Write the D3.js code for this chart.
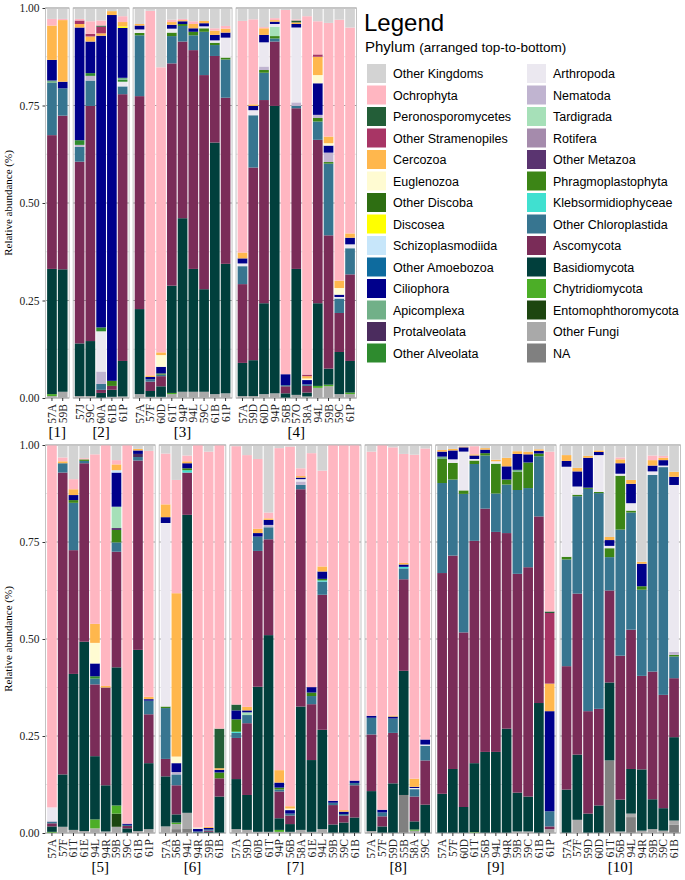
<!DOCTYPE html>
<html>
<head>
<meta charset="utf-8">
<script src="https://cdn.jsdelivr.net/npm/d3@7"></script>
<style>
  body { margin: 0; background: #fff; }
  svg { display: block; }
</style>
</head>
<body>
<div id="chart"></div>
<script>
// facets and samples (left to right)
const facetLabels = ["[1]", "[2]", "[3]", "[4]", "[5]", "[6]", "[7]", "[8]", "[9]", "[10]"];
const facetSamples = [
  ["57A", "59B"],
  ["57J", "59C", "60A", "61B", "61P"],
  ["57A", "57F", "60D", "61T", "94P", "94L", "59C", "61B", "61P"],
  ["57A", "59D", "60D", "94P", "56B", "57O", "58A", "94L", "59B", "59C", "61P"],
  ["57A", "57F", "61T", "61E", "94L", "94R", "59B", "59C", "61B", "61P"],
  ["57A", "56B", "94L", "94R", "59B", "61B"],
  ["57A", "59D", "60B", "61T", "94P", "56B", "58A", "61E", "94L", "59B", "59C", "61B"],
  ["57A", "57F", "59D", "55B", "58A", "59C"],
  ["57A", "57F", "60D", "61T", "56B", "94L", "94R", "59B", "59C", "61B", "61P"],
  ["57A", "57F", "59D", "60D", "61T", "56B", "94L", "94R", "59B", "59C", "61B"]
];
const facetRow = [0, 0, 0, 0, 1, 1, 1, 1, 1, 1];

// legend order (top of the stack first)
const phyla = [
  "Other Kingdoms", "Ochrophyta", "Peronosporomycetes", "Other Stramenopiles", "Cercozoa",
  "Euglenozoa", "Other Discoba", "Discosea", "Schizoplasmodiida", "Other Amoebozoa",
  "Ciliophora", "Apicomplexa", "Protalveolata", "Other Alveolata",
  "Arthropoda", "Nematoda", "Tardigrada", "Rotifera", "Other Metazoa", "Phragmoplastophyta",
  "Klebsormidiophyceae", "Other Chloroplastida", "Ascomycota", "Basidiomycota",
  "Chytridiomycota", "Entomophthoromycota", "Other Fungi", "NA"
];
const phylaColors = [
  "#d3d3d3", "#ffb6c1", "#235e38", "#a83565", "#ffb74d",
  "#fffbd2", "#2e6e12", "#ffff00", "#c7e6fa", "#0e6b9e",
  "#00008b", "#71b088", "#4b2c5e", "#2e8b2e",
  "#ebe8f0", "#c0b4d0", "#a6e0b8", "#a58bac", "#5a3470", "#3c8516",
  "#40e0d0", "#377590", "#7a2c58", "#013f3c",
  "#4cae27", "#1d4610", "#a9a9a9", "#808080"
];
const yTicks = [0, 0.25, 0.5, 0.75, 1];

// relative abundance per phylum, one value per sample, facets [1]..[10]
const otherKingdoms = [
  .028, .028,
  .028, .034, .032, .008, .021,
  .041, .007, .152, .03, .028, .034, .033, .052, .046,
  .033, .029, .049, .026, .005, .029, .021, .034, .038, .03, .05,
  0, .032, .088, .034, .024, 0, .039, 0, .01, .015,
  .022, .09, .027, 0, .017, 0,
  .003, .026, .036, .174, .008, .004, .06, .021, .066, 0, 0, 0,
  .017, 0, .006, .023, .025, .009,
  .013, .01, .004, .003, .008, .038, .033, .016, .017, .011, .017,
  .026, .059, .028, .014, .237, .032, .09, .301, .027, .028, .069
];
const ochrophyta = [
  .017, .003,
  .004, .032, .013, 0, .015,
  0, .935, .731, .006, .003, .007, 0, .006, .007,
  .594, .218, .003, .005, .934, .003, .919, .085, .29, .669, .528,
  .934, .01, .026, .003, .437, .621, .011, .976, 0, .634,
  .131, .292, .015, .986, .967, .731,
  .666, .649, .18, .015, .83, .927, .02, .603, .247, .917, .941, .865,
  .681, .94, .691, .281, .835, .75,
  0, 0, 0, .021, 0, 0, 0, 0, 0, 0, .412,
  0, 0, 0, 0, 0, .005, 0, 0, .012, .005, 0
];
const peronosporomycetes = [
  0, 0,
  0, 0, .003, 0, 0,
  0, 0, 0, 0, 0, 0, 0, 0, 0,
  0, 0, 0, 0, 0, .005, 0, 0, 0, 0, 0,
  0, 0, 0, 0, 0, 0, 0, 0, 0, 0,
  0, 0, 0, 0, 0, .102,
  .015, 0, 0, 0, 0, 0, 0, 0, 0, 0, 0, 0,
  0, 0, 0, 0, 0, 0,
  0, 0, 0, 0, 0, 0, 0, 0, 0, 0, .004,
  0, 0, 0, 0, 0, 0, 0, 0, 0, 0, 0
];
const otherStramenopiles = [
  0, 0,
  .009, .007, .017, 0, 0,
  0, 0, 0, 0, 0, 0, 0, 0, 0,
  0, 0, 0, 0, 0, 0, .004, .006, 0, 0, 0,
  0, 0, 0, 0, 0, 0, 0, 0, 0, 0,
  0, 0, 0, 0, 0, 0,
  0, 0, 0, 0, 0, 0, 0, 0, 0, 0, 0, 0,
  0, 0, 0, 0, 0, 0,
  0, 0, 0, 0, 0, 0, 0, 0, 0, 0, .182,
  0, 0, 0, 0, 0, 0, 0, 0, 0, 0, 0
];
const cercozoa = [
  .088, .158,
  .009, .013, .006, .01, .011,
  .004, .004, .007, .007, .003, .011, .006, .011, .01,
  .015, .004, .017, .004, 0, .004, .006, .047, .017, .019, .011,
  0, .005, .015, 0, .049, .004, .015, 0, .004, .006,
  .033, .421, .005, 0, .003, .004,
  0, .009, .011, .004, .032, .006, .004, 0, .013, 0, .004, 0,
  0, 0, .003, .004, .021, 0,
  .004, .004, .002, .003, .004, .004, .022, .007, .007, .004, .071,
  .015, .009, .005, .004, .008, .01, .01, .005, .014, .006, .013
];
const euglenozoa = [
  0, 0,
  0, 0, 0, 0, 0,
  0, 0, .03, 0, 0, 0, 0, 0, 0,
  0, 0, 0, 0, 0, 0, .004, .021, .006, .017, 0,
  0, 0, 0, 0, .053, 0, 0, 0, 0, 0,
  0, .017, 0, .003, 0, 0,
  0, 0, 0, 0, 0, .004, 0, 0, 0, 0, 0, 0,
  0, 0, 0, 0, 0, 0,
  0, 0, 0, 0, 0, 0, 0, 0, 0, 0, 0,
  0, 0, 0, 0, 0, 0, 0, 0, 0, 0, 0
];
const otherDiscoba = new Array(83).fill(0);
const discosea = [
  0, 0,
  0, 0, 0, 0, .004,
  0, 0, 0, 0, 0, 0, 0, 0, 0,
  0, 0, 0, 0, 0, 0, 0, 0, 0, 0, 0,
  0, 0, 0, 0, 0, 0, 0, 0, 0, 0,
  0, 0, 0, 0, 0, 0,
  0, 0, 0, 0, 0, 0, 0, 0, 0, 0, 0, 0,
  0, 0, 0, 0, 0, 0,
  0, 0, 0, 0, 0, 0, 0, 0, 0, 0, 0,
  0, 0, 0, 0, 0, 0, 0, 0, 0, 0, 0
];
const schizoplasmodiida = [
  0, 0,
  0, 0, 0, 0, 0,
  0, 0, 0, 0, 0, 0, 0, 0, 0,
  0, 0, 0, 0, 0, 0, 0, 0, 0, 0, 0,
  0, 0, 0, 0, 0, 0, .006, 0, 0, 0,
  0, 0, 0, 0, 0, 0,
  0, 0, 0, 0, 0, 0, 0, 0, 0, 0, 0, 0,
  0, 0, 0, 0, 0, 0,
  0, 0, 0, 0, 0, 0, 0, 0, 0, 0, 0,
  0, 0, 0, 0, 0, 0, 0, 0, 0, 0, 0
];
const otherAmoebozoa = new Array(83).fill(0);
const ciliophora = [
  .053, .017,
  .289, .081, .748, .938, .128,
  .01, .006, .017, .01, .007, .009, .008, .014, .013,
  .013, .011, .019, .006, .028, .009, .011, .081, .018, .006, .017,
  0, 0, .013, 0, .033, 0, .088, .003, .009, .004,
  .015, .023, .013, .007, .004, .007,
  .023, .005, .009, .013, .013, .009, .004, .014, .019, .005, .006, .006,
  .005, .007, .005, .006, .003, .013,
  .013, .023, .011, .009, .009, 0, .034, .041, .021, .007, .258,
  .015, .039, .077, .008, .015, .027, .05, .058, .015, .014, .021
];
const apicomplexa = [
  .006, 0,
  0, 0, 0, 0, .005,
  0, 0, 0, 0, 0, 0, 0, 0, 0,
  0, 0, 0, 0, 0, 0, 0, 0, 0, 0, 0,
  0, 0, 0, 0, 0, 0, 0, 0, 0, 0,
  0, 0, 0, 0, 0, 0,
  0, 0, 0, 0, 0, 0, 0, 0, 0, 0, 0, 0,
  0, 0, 0, 0, 0, 0,
  .006, 0, 0, 0, 0, 0, 0, .005, 0, 0, 0,
  0, 0, 0, 0, 0, 0, 0, 0, 0, 0, 0
];
const protalveolata = [
  0, 0,
  0, 0, 0, 0, 0,
  0, 0, 0, 0, 0, 0, 0, 0, 0,
  0, 0, 0, 0, 0, 0, 0, 0, 0, 0, 0,
  0, 0, 0, 0, 0, 0, 0, 0, .008, 0,
  0, 0, 0, 0, 0, 0,
  0, 0, 0, 0, 0, 0, 0, 0, 0, 0, 0, 0,
  0, 0, 0, 0, 0, 0,
  0, 0, 0, 0, 0, 0, 0, 0, 0, 0, 0,
  0, 0, 0, 0, 0, 0, 0, 0, 0, 0, 0
];
const otherAlveolata = [
  0, 0,
  .012, .007, .01, 0, .005,
  0, 0, 0, 0, 0, 0, 0, 0, 0,
  0, 0, 0, 0, 0, 0, 0, 0, 0, 0, 0,
  0, 0, 0, 0, .006, 0, 0, 0, 0, 0,
  0, 0, 0, 0, 0, 0,
  0, 0, 0, 0, 0, 0, 0, 0, 0, 0, 0, 0,
  0, 0, 0, 0, 0, 0,
  0, 0, 0, 0, 0, 0, 0, 0, 0, 0, 0,
  0, 0, 0, 0, 0, 0, 0, 0, 0, 0, 0
];
const arthropoda = [
  0, 0,
  0, 0, .103, 0, .012,
  .009, 0, 0, .01, 0, 0, .005, .006, .051,
  .007, .013, .062, .007, 0, .192, 0, 0, 0, .004, .01,
  .034, 0, 0, 0, 0, 0, 0, 0, 0, 0,
  .473, 0, 0, 0, 0, 0,
  0, 0, 0, 0, 0, 0, .006, 0, 0, 0, 0, 0,
  0, 0, 0, 0, .003, .003,
  0, .009, .1, .004, 0, .006, 0, 0, 0, 0, 0,
  .232, .021, 0, .095, .006, .005, .019, 0, .009, .004, .43
];
const nematoda = [
  0, 0,
  .005, .012, .032, 0, 0,
  0, 0, 0, 0, 0, 0, 0, 0, 0,
  0, 0, .009, 0, 0, .009, 0, .008, .024, 0, 0,
  .003, 0, 0, 0, 0, 0, 0, 0, 0, 0,
  0, .006, 0, 0, 0, 0,
  0, 0, 0, .006, 0, 0, .009, 0, 0, 0, 0, 0,
  0, 0, 0, 0, 0, 0,
  0, 0, 0, 0, 0, 0, 0, 0, 0, 0, 0,
  0, 0, 0, 0, 0, 0, 0, 0, 0, 0, .008
];
const tardigrada = [
  0, 0,
  0, 0, 0, 0, 0,
  0, 0, 0, 0, 0, 0, 0, 0, 0,
  0, 0, 0, .024, 0, 0, 0, 0, 0, 0, 0,
  0, 0, 0, 0, 0, 0, .055, 0, 0, 0,
  0, 0, 0, 0, 0, 0,
  0, .007, 0, 0, 0, 0, 0, 0, 0, 0, 0, 0,
  0, 0, 0, 0, 0, 0,
  0, 0, 0, 0, 0, 0, 0, 0, 0, 0, 0,
  0, 0, 0, 0, 0, 0, 0, 0, 0, 0, 0
];
const rotifera = new Array(83).fill(0);
const otherMetazoa = [
  0, 0,
  0, 0, 0, 0, 0,
  0, 0, 0, 0, 0, 0, 0, 0, 0,
  0, 0, 0, 0, 0, 0, 0, 0, 0, 0, 0,
  0, 0, 0, 0, 0, 0, .005, 0, 0, 0,
  0, 0, 0, 0, 0, 0,
  0, 0, 0, 0, 0, 0, 0, 0, 0, 0, 0, 0,
  0, 0, 0, 0, 0, 0,
  0, 0, 0, 0, 0, 0, 0, 0, 0, 0, 0,
  0, 0, 0, 0, 0, 0, 0, 0, 0, 0, 0
];
const phragmoplastophyta = [
  0, 0,
  0, 0, 0, .013, 0,
  .006, 0, .003, .009, .005, .009, .009, .006, .005,
  0, 0, .007, .006, 0, 0, 0, .009, .004, 0, 0,
  0, 0, .007, .004, 0, 0, .032, 0, 0, 0,
  .004, 0, .005, 0, 0, .015,
  .032, 0, 0, 0, .005, 0, 0, .009, .004, 0, 0, 0,
  0, 0, 0, 0, 0, 0,
  .062, .043, .009, .009, .006, .077, .013, .047, .066, .007, 0,
  .007, .004, .003, .003, .023, .139, .005, .009, 0, 0, .004
];
const klebsormidiophyceae = [
  0, 0,
  0, 0, 0, 0, 0,
  0, 0, 0, 0, 0, 0, 0, 0, 0,
  0, 0, 0, 0, 0, 0, 0, 0, 0, 0, 0,
  0, 0, 0, 0, 0, 0, 0, 0, 0, 0,
  0, 0, .006, 0, 0, 0,
  .003, 0, 0, 0, 0, 0, 0, 0, .003, 0, 0, 0,
  0, 0, 0, .004, 0, 0,
  0, 0, 0, 0, 0, 0, 0, 0, 0, 0, 0,
  0, 0, 0, 0, 0, 0, 0, 0, 0, 0, 0
];
const otherChloroplastida = [
  .134, .07,
  .038, .065, .015, 0, .02,
  .156, .006, .004, .07, .04, .038, .111, .028, .098,
  .046, .134, .07, .008, .003, .006, .004, .047, .183, .037, .067,
  .004, .024, .122, .006, .015, 0, .024, .003, .009, .035,
  .131, .028, 0, .002, .003, 0,
  .013, .021, .037, .031, .005, .005, .011, .021, .034, .006, .004, .006,
  .043, .01, .037, .028, .019, .038,
  .232, .196, .357, .198, .137, .099, .125, .216, .204, .155, .039,
  .275, .251, .573, .556, .086, .325, .302, .222, .507, .587, .056
];
const ascomycota = [
  .343, .394,
  .466, .603, .008, .01, .684,
  .546, .024, .026, .57, .453, .561, .549, .222, .426,
  .202, .494, .521, .165, .018, .412, .017, .419, .34, .1, .222,
  .008, .778, .319, .46, .185, .252, .298, .006, .488, .126,
  .045, .075, .109, 0, .003, .047,
  .106, .185, .35, .247, .069, .022, .56, .144, .348, .05, .018, .083,
  .146, .026, .13, .236, .064, .114,
  .569, .55, .45, .573, .627, .567, .504, .564, .591, .481, .007,
  .318, .415, .264, .249, .237, .371, .359, .241, .329, .292, .152
];
const basidiomycota = [
  .321, .314,
  .135, .141, .013, .018, .091,
  .218, .015, .027, .275, .445, .315, .263, .645, .332,
  .085, .092, .233, .737, .012, .323, .01, .212, .041, .108, .081,
  .014, .135, .402, .488, .163, .119, .356, .012, .467, .17,
  .129, .021, .768, .002, .003, .094,
  .129, .09, .374, .507, .03, .02, .318, .185, .256, .022, .027, .04,
  .103, .017, .128, .32, .021, .073,
  .101, .165, .067, .178, .209, .209, .269, .1, .09, .335, 0,
  .112, .168, .05, .071, .201, .082, .115, .158, .077, .058, .215
];
const chytridiomycota = [
  .005, 0,
  0, 0, 0, 0, 0,
  0, 0, 0, .003, 0, 0, 0, 0, 0,
  0, 0, 0, 0, 0, 0, 0, .005, .004, 0, .004,
  .003, 0, 0, 0, .023, 0, .021, 0, 0, 0,
  0, .004, 0, 0, 0, 0,
  0, 0, 0, 0, .005, 0, 0, 0, 0, 0, 0, 0,
  0, 0, 0, 0, .003, 0,
  0, 0, 0, .002, 0, 0, 0, 0, 0, 0, 0,
  0, 0, 0, 0, 0, 0, 0, 0, 0, 0, 0
];
const entomophthoromycota = [
  0, 0,
  0, 0, 0, 0, 0,
  0, 0, 0, 0, 0, 0, 0, 0, 0,
  0, 0, 0, 0, 0, 0, 0, 0, 0, 0, 0,
  0, 0, 0, 0, 0, 0, .034, 0, 0, 0,
  0, 0, 0, 0, 0, 0,
  0, 0, 0, 0, 0, 0, 0, 0, 0, 0, 0, 0,
  0, 0, 0, 0, 0, 0,
  0, 0, 0, 0, 0, 0, 0, 0, 0, 0, 0,
  0, 0, 0, 0, 0, 0, 0, 0, 0, 0, 0
];
const otherFungi = [
  .005, .016,
  .005, .005, 0, .003, .004,
  .01, .003, .003, .01, .016, .016, .016, .01, .012,
  .005, .005, .01, .012, 0, .008, .004, .026, .03, .01, .01,
  0, .016, .008, .005, .012, .004, .016, 0, .005, .01,
  .017, .013, .04, 0, 0, 0,
  .01, .008, .003, .003, .003, .003, .008, .003, .01, 0, 0, 0,
  .005, 0, 0, 0, .006, 0,
  0, 0, 0, 0, 0, 0, 0, .004, .004, 0, .01,
  0, .034, 0, 0, 0, .004, .009, .006, .01, .006, .011
];
const notAssigned = [
  0, 0,
  0, 0, 0, 0, 0,
  0, 0, 0, 0, 0, 0, 0, 0, 0,
  0, 0, 0, 0, 0, 0, 0, 0, 0, 0, 0,
  0, 0, 0, 0, 0, 0, 0, 0, 0, 0,
  0, .01, .012, 0, 0, 0,
  0, 0, 0, 0, 0, 0, 0, 0, 0, 0, 0, 0,
  0, 0, 0, .098, 0, 0,
  0, 0, 0, 0, 0, 0, 0, 0, 0, 0, 0,
  0, 0, 0, 0, .187, 0, .041, 0, 0, 0, .021
];

// table for d3.stack, built from the arrays above
const seriesByPhylum = {
  "Other Kingdoms": otherKingdoms, "Ochrophyta": ochrophyta,
  "Peronosporomycetes": peronosporomycetes, "Other Stramenopiles": otherStramenopiles,
  "Cercozoa": cercozoa, "Euglenozoa": euglenozoa, "Other Discoba": otherDiscoba,
  "Discosea": discosea, "Schizoplasmodiida": schizoplasmodiida, "Other Amoebozoa": otherAmoebozoa,
  "Ciliophora": ciliophora, "Apicomplexa": apicomplexa, "Protalveolata": protalveolata,
  "Other Alveolata": otherAlveolata, "Arthropoda": arthropoda, "Nematoda": nematoda,
  "Tardigrada": tardigrada, "Rotifera": rotifera, "Other Metazoa": otherMetazoa,
  "Phragmoplastophyta": phragmoplastophyta, "Klebsormidiophyceae": klebsormidiophyceae,
  "Other Chloroplastida": otherChloroplastida, "Ascomycota": ascomycota,
  "Basidiomycota": basidiomycota, "Chytridiomycota": chytridiomycota,
  "Entomophthoromycota": entomophthoromycota, "Other Fungi": otherFungi, "NA": notAssigned
};

const rows = [];
facetSamples.forEach(function (samples, f) {
  samples.forEach(function (s) {
    const i = rows.length;
    const row = { sample: s, facet: f };
    phyla.forEach(function (p) { row[p] = seriesByPhylum[p][i]; });
    rows.push(row);
  });
});

const color = d3.scaleOrdinal().domain(phyla).range(phylaColors);
const stackKeys = phyla.slice().reverse();   // NA at the bottom
const stacked = d3.stack().keys(stackKeys).offset(d3.stackOffsetExpand)(rows);

const svg = d3.select("#chart").append("svg")
  .attr("width", 685).attr("height", 880);

const serif = "'Liberation Serif', 'Times New Roman', serif";
const sans = "'Liberation Sans', Arial, sans-serif";

// two panel rows
const panels = [
  { top: 8, bottom: 398, left: 45.5, right: 356.5, stripY: 437 },
  { top: 445, bottom: 833, left: 45.5, right: 680.5, stripY: 872 }
];
const gap = 4;

panels.forEach(function (pn, r) {
  const facets = facetLabels.map(function (l, f) { return f; }).filter(function (f) { return facetRow[f] === r; });
  const units = d3.sum(facets, function (f) { return facetSamples[f].length + 0.2; });
  const unit = (pn.right - pn.left - gap * (facets.length - 1)) / units;

  const y = d3.scaleLinear().domain([0, 1]).range([pn.bottom, pn.top]);

  // y axis
  const yAxis = svg.append("g")
    .attr("transform", `translate(${pn.left},0)`)
    .call(d3.axisLeft(y).tickValues(yTicks).tickFormat(d3.format(".2f")).tickSize(3).tickPadding(3));
  yAxis.select(".domain").remove();
  yAxis.selectAll("line").attr("stroke", "#333");
  yAxis.selectAll("text").style("font-family", serif).style("font-size", "11.5px").attr("fill", "#222");

  svg.append("text")
    .attr("transform", `translate(12,${(pn.top + pn.bottom) / 2}) rotate(-90)`)
    .attr("text-anchor", "middle")
    .style("font-family", serif).style("font-size", "11px")
    .text("Relative abundance (%)");

  let x0 = pn.left;
  facets.forEach(function (f) {
    const samples = facetSamples[f];
    const w = (samples.length + 0.2) * unit;
    const x = d3.scaleBand().domain(samples).range([x0, x0 + w]).paddingInner(0.1).paddingOuter(0.15);

    const g = svg.append("g");
    // minor and major grid
    g.selectAll("line.minor").data([0.125, 0.375, 0.625, 0.875]).enter().append("line")
      .attr("x1", x0).attr("x2", x0 + w).attr("y1", y).attr("y2", y)
      .attr("stroke", "#dcdcdc").attr("stroke-width", 0.8);
    g.selectAll("line.major").data(yTicks).enter().append("line")
      .attr("x1", x0).attr("x2", x0 + w).attr("y1", y).attr("y2", y)
      .attr("stroke", "#a0a0a0").attr("stroke-width", 1);

    // stacked bars for this facet
    const idx = rows.map(function (d, i) { return d.facet === f ? i : -1; }).filter(function (i) { return i >= 0; });
    stacked.forEach(function (layer) {
      g.selectAll(null).data(idx.map(function (i) { return layer[i]; }).filter(function (d) { return d[1] - d[0] > 0; }))
        .enter().append("rect")
        .attr("x", function (d) { return x(d.data.sample); })
        .attr("width", x.bandwidth())
        .attr("y", function (d) { return y(d[1]); })
        .attr("height", function (d) { return y(d[0]) - y(d[1]); })
        .attr("fill", color(layer.key));
    });

    // panel border
    g.append("rect").attr("x", x0).attr("y", pn.top).attr("width", w).attr("height", pn.bottom - pn.top)
      .attr("fill", "none").attr("stroke", "#b5b5b5").attr("stroke-width", 0.8);

    // x axis
    const xAxis = svg.append("g")
      .attr("transform", `translate(0,${pn.bottom})`)
      .call(d3.axisBottom(x).tickSize(3));
    xAxis.select(".domain").remove();
    xAxis.selectAll("line").attr("stroke", "#333");
    xAxis.selectAll("text")
      .attr("transform", "rotate(-90)")
      .attr("x", -6).attr("y", 0).attr("dy", "0.35em")
      .style("text-anchor", "end")
      .style("font-family", serif).style("font-size", "11.5px").attr("fill", "#222");

    // facet strip label
    svg.append("text")
      .attr("x", x0 + w / 2).attr("y", pn.stripY)
      .attr("text-anchor", "middle")
      .style("font-family", serif).style("font-size", "15px")
      .text(facetLabels[f]);

    x0 += w + gap;
  });
});

// legend
const legend = svg.append("g");
legend.append("text").attr("x", 364).attr("y", 31)
  .style("font-family", sans).style("font-size", "24px").text("Legend");
const sub = legend.append("text").attr("x", 365).attr("y", 52).style("font-family", sans);
sub.append("tspan").style("font-size", "15px").text("Phylum ");
sub.append("tspan").style("font-size", "13.5px").text("(arranged top-to-bottom)");

const perCol = 14;
const item = legend.selectAll("g.item").data(phyla).enter().append("g")
  .attr("transform", function (d, i) {
    const col = Math.floor(i / perCol), row = i % perCol;
    return `translate(${367 + col * 160},${64 + row * 21.5})`;
  });
item.append("rect").attr("width", 19).attr("height", 19)
  .attr("fill", function (d) { return color(d); });
item.append("text").attr("x", 26).attr("y", 14)
  .style("font-family", sans).style("font-size", "12.5px")
  .text(function (d) { return d; });
</script>
</body>
</html>
